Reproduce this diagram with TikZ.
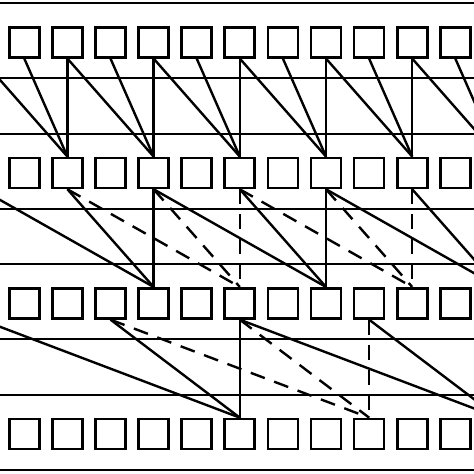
\documentclass[tikz,border=0pt]{standalone}
\usetikzlibrary{positioning}
\begin{document}
\begin{tikzpicture}[x=1pt,y=-1pt]
\tikzset{cell/.style={rectangle,draw,line width=2.7pt,minimum width=30pt,minimum height=30pt,inner sep=0pt}}
\tikzset{band/.style={line width=2pt}}
\tikzset{link/.style={line width=2.4pt}}
\tikzset{dlink/.style={link,dash pattern=on 15pt off 10pt}}
\useasboundingbox (0,0) rectangle (474,474);
\clip (0,0) rectangle (474,474);
% rows of cells with their bands
\foreach \r/\y in {1/42.2,2/172.9,3/303.3,4/434}{
  \draw[band] (0,\y-39) -- (474,\y-39);
  \draw[band] (0,\y+36) -- (474,\y+36);
  \foreach \k in {0,...,12}
    \node[cell] (r\r c\k) at ({-18.8+43.1*\k},\y) {};
}
% row 1 to row 2
\foreach \t in {2,4,...,12}
  \foreach \d in {0,1,2}{
    \pgfmathtruncatemacro\s{\t-\d}
    \draw[link] (r1c\s.south) -- (r2c\t.north);
  }
% row 2 to row 3
\foreach \t/\st in {4/link,6/dlink,8/link,10/dlink,12/link}
  \foreach \d in {0,2,4}{
    \pgfmathtruncatemacro\s{\t-\d}
    \draw[\st] (r2c\s.south) -- (r3c\t.north);
  }
% row 3 to row 4
\foreach \t/\st in {6/link,9/dlink,12/link}
  \foreach \d in {0,3,6}{
    \pgfmathtruncatemacro\s{\t-\d}
    \draw[\st] (r3c\s.south) -- (r4c\t.north);
  }
\end{tikzpicture}
\end{document}
